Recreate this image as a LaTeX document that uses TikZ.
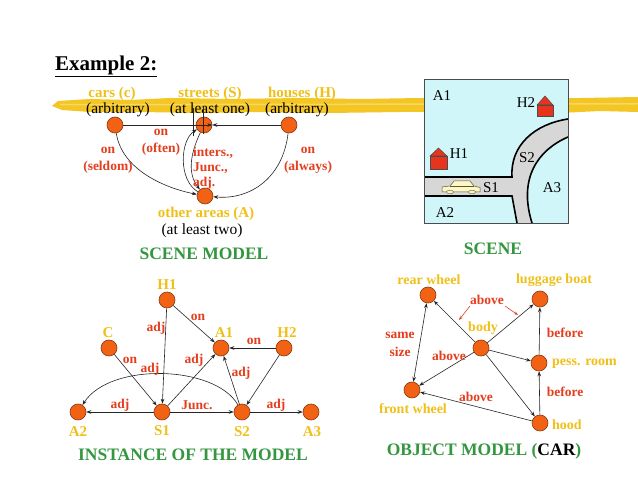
\documentclass[tikz,border=0pt]{standalone}
\usepackage{fontspec}
\setmainfont{Liberation Serif}
\usetikzlibrary{arrows.meta}
\definecolor{nodeor}{RGB}{242,98,20}
\definecolor{nodeedge}{RGB}{140,55,15}
\definecolor{labred}{RGB}{228,62,30}
\definecolor{labyel}{RGB}{240,192,25}
\definecolor{labgreen}{RGB}{52,150,62}
\definecolor{brushcol}{RGB}{243,198,35}
\definecolor{scenebg}{RGB}{208,246,250}
\definecolor{roadgray}{RGB}{215,215,215}
\definecolor{housered}{RGB}{232,52,28}
\definecolor{carfill}{RGB}{252,246,200}
\newcommand\fEx{\fontsize{21}{24}\selectfont\bfseries}
\newcommand\fHead{\fontsize{15}{17}\selectfont\bfseries}
\newcommand\fSub{\fontsize{15.5}{18}\selectfont}
\newcommand\fLab{\fontsize{13.5}{15}\selectfont\bfseries}
\newcommand\fTitle{\fontsize{17.5}{20}\selectfont\bfseries}
\newcommand\fScn{\fontsize{15}{17}\selectfont}
\tikzset{
  nd/.style={circle, fill=nodeor, draw=nodeedge, line width=0.6pt, minimum size=16pt, inner sep=0pt},
  arr/.style={-{Stealth[length=5pt,width=3.6pt]}, line width=0.6pt, draw=black!85},
  darr/.style={{Stealth[length=5pt,width=3.6pt]}-{Stealth[length=5pt,width=3.6pt]}, line width=0.6pt, draw=black!85},
  redarr/.style={-{Stealth[length=4pt,width=3pt]}, line width=0.6pt, draw=labred},
  plain/.style={line width=0.6pt, draw=black!85},
  lab/.style={font=\fLab, text=labred, inner sep=0pt},
  ylab/.style={font=\fHead, text=labyel, inner sep=0pt},
  oylab/.style={font=\fontsize{14}{16}\selectfont\bfseries, text=labyel, inner sep=0pt},
  sub/.style={font=\fSub, text=black, inner sep=0pt},
  ttl/.style={font=\fTitle, text=labgreen, inner sep=0pt},
  scn/.style={font=\fScn, text=black, inner sep=0pt},
  road/.style={line width=1.6pt, draw=black},
  house/.style={fill=housered, draw=black!70, line width=0.5pt}
}
\begin{document}
\begin{tikzpicture}[x=1pt,y=-1pt]
\useasboundingbox (0,0) rectangle (638,478);
\fill[white] (0,0) rectangle (638,478);

% yellow brush stroke
\fill[brushcol] (52,106) -- (58,101) -- (90,99) -- (130,100) -- (170,98) -- (230,99) -- (300,98) -- (360,99) -- (420,98) -- (500,99) -- (580,98) -- (638,97)
  -- (638,112) -- (600,111) -- (560,113) -- (480,112) -- (400,112) -- (330,113) -- (260,112) -- (200,113) -- (140,112) -- (90,112) -- (62,110) -- cycle;
\fill[brushcol!70!white] (60,104) -- (638,103) -- (638,104.5) -- (60,105.5) -- cycle;

% title
\node[font=\fEx, inner sep=0pt, anchor=west] (ex) at (55,66) {\underline{Example 2:}};

% ---------- SCENE MODEL ----------
\node[nd] (cars) at (115,125) {};
\node[nd] (streets) at (204,125) {};
\node[nd] (houses) at (289,125) {};
\node[nd] (other) at (205,196) {};

\node[ylab] (tcars) at (112,94) {cars (c)};
\node[sub] (tcars2) at (118,110) {(arbitrary)};
\node[ylab] (tstr) at (210,94) {streets (S)};
\node[sub] (tstr2) at (210,110) {(at least one)};
\node[ylab] (thou) at (302,94) {houses (H)};
\node[sub] (thou2) at (297,110) {(arbitrary)};
\node[ylab] (toth) at (206,214) {other areas (A)};
\node[sub] (toth2) at (202,231) {(at least two)};
\node[ttl] (tsm) at (204,254) {SCENE MODEL};

\coordinate (vla) at (193,108);
\coordinate (vlb) at (193,136);
\coordinate (vlc) at (203,106);
\coordinate (vld) at (203,134);
\draw[plain] (vla) -- (vlb);
\draw[plain] (vlc) -- (vld);
\draw[arr] (cars) -- (streets.east);
\draw[arr] (houses) -- (streets);
\draw[arr] (cars) .. controls (122,170) and (165,188) .. (other);
\draw[arr] (houses) .. controls (283,178) and (250,200) .. (other);
\draw[arr] (other) .. controls (178,180) and (180,140) .. (streets);
\draw[arr] (streets) .. controls (192,150) and (186,172) .. (other);

\node[lab] (l1a) at (161,132) {on};
\node[lab] (l1b) at (161,149) {(often)};
\node[lab] (l2a) at (108,150) {on};
\node[lab] (l2b) at (108,167) {(seldom)};
\node[lab] (l3a) at (308,150) {on};
\node[lab] (l3b) at (308,167) {(always)};
\node[lab, anchor=west] (l4a) at (193,153) {inters.,};
\node[lab, anchor=west] (l4b) at (193,168) {Junc.,};
\node[lab, anchor=west] (l4c) at (193,183) {adj.};

% ---------- SCENE ----------
\fill[scenebg] (424,79) rectangle (568,223);
\fill[roadgray] (424,177) -- (512,177) .. controls (510,145) and (535,124) .. (568,119)
  -- (568,137) .. controls (538,150) and (518,178) .. (532,223) -- (517,223) -- (512,196) -- (424,196) -- cycle;
\draw[road] (424,177) -- (512,177) .. controls (510,145) and (535,124) .. (568,119);
\draw[road] (568,137) .. controls (538,150) and (518,178) .. (532,223);
\draw[road] (424,196) -- (512,196) -- (517,223);
\draw[black!70, line width=0.7pt] (424,79) rectangle (568,223);
% houses
\filldraw[house] (537,105) -- (545,96) -- (553,105) -- cycle;
\filldraw[house] (537,105) rectangle (553,116);
\filldraw[house] (430,156) -- (438.5,148) -- (447,156) -- cycle;
\filldraw[house] (430,156) rectangle (447,169);
% car
\filldraw[fill=carfill, draw=olive!55!black, line width=0.5pt] (442,192) -- (442,187) -- (450,186) -- (454,181) -- (470,181) -- (474,186) -- (480,187.5) -- (480,192) -- cycle;
\draw[olive!55!black, line width=0.4pt] (450,186) -- (474,186);
\filldraw[fill=carfill, draw=olive!55!black, line width=0.4pt] (450,192) ellipse (3.5pt and 1.8pt);
\filldraw[fill=carfill, draw=olive!55!black, line width=0.4pt] (472,192) ellipse (3.5pt and 1.8pt);

\node[scn] (sA1) at (442,96) {A1};
\node[scn] (sH2) at (526,103) {H2};
\node[scn] (sH1) at (459,154) {H1};
\node[scn] (sS2) at (527,158) {S2};
\node[scn] (sS1) at (491,188) {S1};
\node[scn] (sA3) at (552,188) {A3};
\node[scn] (sA2) at (445,213) {A2};
\node[ttl] (tsc) at (493,249) {SCENE};

% ---------- INSTANCE ----------
\node[nd] (H1) at (167,300) {};
\node[nd] (C) at (109,348) {};
\node[nd] (A1) at (221,348) {};
\node[nd] (H2) at (284,348) {};
\node[nd] (A2) at (78,412) {};
\node[nd] (S1) at (162,412) {};
\node[nd] (S2) at (242,412) {};
\node[nd] (A3) at (311,412) {};

\draw[arr] (H1) -- (A1);
\draw[arr] (H1) -- (S1);
\draw[arr] (C) -- (S1);
\draw[arr] (S1) -- (A1);
\draw[arr] (H2) -- (A1);
\draw[arr] (S2) -- (A1);
\draw[arr] (H2) -- (S2);
\draw[arr] (S1) -- (A2);
\draw[arr] (S1) -- (S2);
\draw[arr] (S2) -- (A3);
\draw[arr] (S2) .. controls (215,365) and (110,362) .. (A2);

\node[ylab] (iH1) at (167,285) {H1};
\node[ylab] (iC) at (108,333) {C};
\node[ylab] (iA1) at (224,333) {A1};
\node[ylab] (iH2) at (287,333) {H2};
\node[ylab] (iA2) at (78,432) {A2};
\node[ylab] (iS1) at (162,431) {S1};
\node[ylab] (iS2) at (242,432) {S2};
\node[ylab] (iA3) at (312,432) {A3};

\node[lab] (e1) at (198,317) {on};
\node[lab] (e2) at (156,328) {adj};
\node[lab] (e3) at (254,341) {on};
\node[lab] (e4) at (130,360) {on};
\node[lab] (e5) at (150,369) {adj};
\node[lab] (e6) at (194,360) {adj};
\node[lab] (e7) at (241,373) {adj};
\node[lab] (e8) at (120,405) {adj};
\node[lab] (e9) at (197,405) {Junc.};
\node[lab] (e10) at (276,405) {adj};
\node[ttl] (tin) at (193,455) {INSTANCE OF THE MODEL};

% ---------- OBJECT MODEL ----------
\node[nd] (rw) at (428,295) {};
\node[nd] (lb) at (540,299) {};
\node[nd] (body) at (481,348) {};
\node[nd] (pr) at (539,363) {};
\node[nd] (fw) at (412,390) {};
\node[nd] (hood) at (540,423) {};

\draw[arr] (body) -- (rw);
\draw[arr] (body) -- (lb);
\draw[arr] (body) -- (pr);
\draw[arr] (body) -- (fw);
\draw[arr] (body) -- (hood);
\draw[arr] (hood) -- (fw);
\draw[arr] (hood) -- (pr);
\draw[arr] (pr) -- (lb);
\draw[darr] (rw) -- (fw);

\node[oylab] (orw) at (429,280) {rear wheel};
\node[oylab] (olb) at (554,280) {luggage boat};
\node[oylab] (obd) at (483,328) {body};
\node[oylab, anchor=west] (opr) at (552,364) {pess. room};
\node[oylab] (ofw) at (413,409) {front wheel};
\node[oylab, anchor=west] (ohd) at (552,425) {hood};

\node[lab] (o1) at (487,300) {above};
\coordinate (o1l) at (470,306);
\coordinate (o1lt) at (459,320);
\coordinate (o1r) at (505,306);
\coordinate (o1rt) at (518,315);
\draw[redarr] (o1l) -- (o1lt);
\draw[redarr] (o1r) -- (o1rt);
\node[lab] (o2a) at (400,335) {same};
\node[lab] (o2b) at (400,352) {size};
\node[lab] (o3) at (565,333) {before};
\node[lab] (o4) at (449,356) {above};
\node[lab] (o5) at (565,392) {before};
\node[lab] (o6) at (476,397) {above};
\node[font=\fTitle, inner sep=0pt] (tob) at (484,451) {\textcolor{labgreen}{OBJECT MODEL (}\textcolor{black}{CAR}\textcolor{labgreen}{)}};
\end{tikzpicture}
\end{document}
